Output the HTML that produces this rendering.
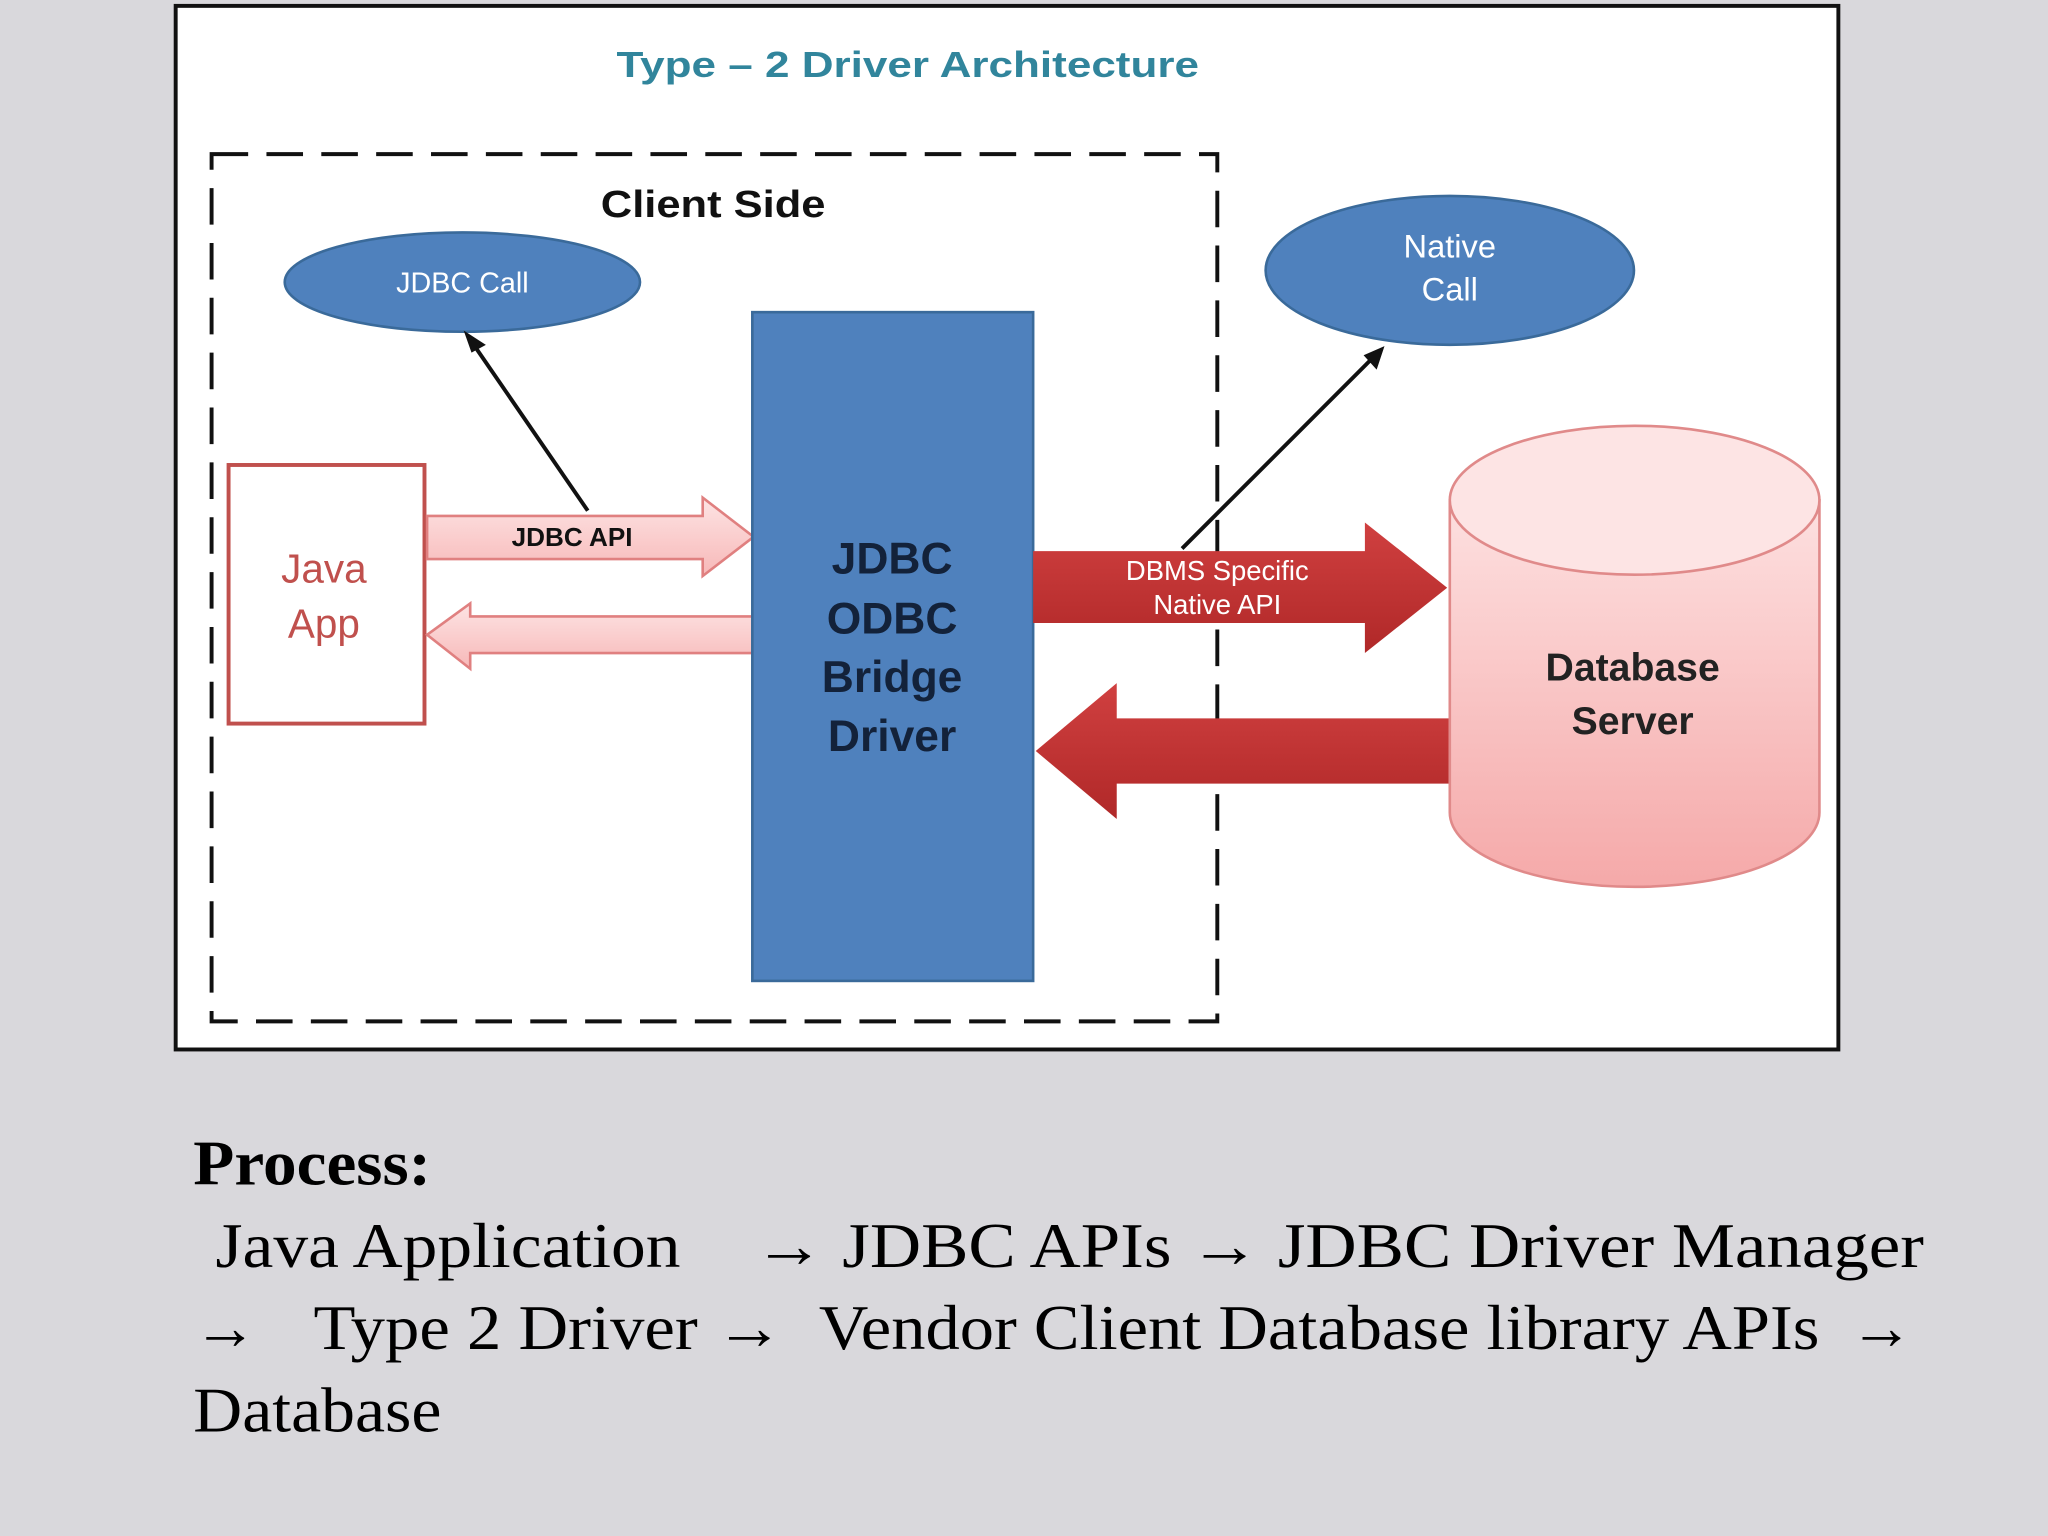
<!DOCTYPE html>
<html><head><meta charset="utf-8"><style>
html,body{margin:0;padding:0;background:#d9d8dc;}
svg{display:block;}
</style></head><body>
<svg width="2048" height="1536" viewBox="0 0 1568 1176" xmlns="http://www.w3.org/2000/svg">
<defs>
<linearGradient id="pk" x1="0" y1="0" x2="0" y2="1"><stop offset="0" stop-color="#fde4e4"/><stop offset="1" stop-color="#f7b8b8"/></linearGradient>
<linearGradient id="cyl" x1="0" y1="0" x2="0" y2="1"><stop offset="0" stop-color="#fde0e0"/><stop offset="1" stop-color="#f5a9a9"/></linearGradient>
<linearGradient id="rd" x1="0" y1="0" x2="0" y2="1"><stop offset="0" stop-color="#d04040"/><stop offset="1" stop-color="#b02828"/></linearGradient>
</defs>
<rect x="0" y="0" width="1568" height="1176" fill="#d9d8dc"/>
<rect x="134.5" y="4.5" width="1273" height="799" fill="#fff" stroke="#111" stroke-width="3"/>
<text x="472" y="59" textLength="446" lengthAdjust="spacingAndGlyphs" font-family="Liberation Sans, sans-serif" font-weight="bold" font-size="28" fill="#31859c">Type – 2 Driver Architecture</text>
<rect x="162" y="118" width="770" height="664" fill="none" stroke="#111" stroke-width="3" stroke-dasharray="28 14"/>
<text x="460" y="166" textLength="172" lengthAdjust="spacingAndGlyphs" font-family="Liberation Sans, sans-serif" font-weight="bold" font-size="29" fill="#111">Client Side</text>
<ellipse cx="354" cy="216" rx="136" ry="38" fill="#4f81bd" stroke="#3a6a9a" stroke-width="2"/>
<text x="354" y="224" font-family="Liberation Sans, sans-serif" font-size="22" fill="#fff" text-anchor="middle">JDBC Call</text>
<ellipse cx="1110" cy="207" rx="141" ry="57" fill="#4f81bd" stroke="#3a6a9a" stroke-width="2"/>
<text x="1110" y="197" font-family="Liberation Sans, sans-serif" font-size="25" fill="#fff" text-anchor="middle">Native</text>
<text x="1110" y="230" font-family="Liberation Sans, sans-serif" font-size="25" fill="#fff" text-anchor="middle">Call</text>
<rect x="175" y="356" width="150" height="198" fill="#fff" stroke="#c0504d" stroke-width="3"/>
<text x="248" y="446" font-family="Liberation Sans, sans-serif" font-size="31" fill="#c0504d" text-anchor="middle">Java</text>
<text x="248" y="488" font-family="Liberation Sans, sans-serif" font-size="31" fill="#c0504d" text-anchor="middle">App</text>
<polygon points="327,395 538,395 538,381 577,411 538,441 538,428 327,428" fill="url(#pk)" stroke="#e08080" stroke-width="2"/>
<text x="438" y="418" font-family="Liberation Sans, sans-serif" font-weight="bold" font-size="20" fill="#111" text-anchor="middle">JDBC API</text>
<polygon points="577,472 360,472 360,462 327,486 360,512 360,500 577,500" fill="url(#pk)" stroke="#e08080" stroke-width="2"/>
<rect x="576" y="239" width="215" height="512" fill="#4f81bd" stroke="#3a6a9a" stroke-width="2"/>
<g font-family="Liberation Sans, sans-serif" font-weight="bold" font-size="34" fill="#13223a" text-anchor="middle">
<text x="683" y="439">JDBC</text><text x="683" y="485">ODBC</text><text x="683" y="530">Bridge</text><text x="683" y="575">Driver</text></g>
<polygon points="791,422 1045,422 1045,400 1108,450 1045,500 1045,477 791,477" fill="url(#rd)"/>
<text x="932" y="444" font-family="Liberation Sans, sans-serif" font-size="21" fill="#fff" text-anchor="middle">DBMS Specific</text>
<text x="932" y="470" font-family="Liberation Sans, sans-serif" font-size="21" fill="#fff" text-anchor="middle">Native API</text>
<polygon points="1112,550 855,550 855,523 793,575 855,627 855,600 1112,600" fill="url(#rd)"/>
<path d="M1110,383 L1110,622 A141.5,57 0 0 0 1393,622 L1393,383 Z" fill="url(#cyl)" stroke="#e08a8a" stroke-width="2"/>
<ellipse cx="1251.5" cy="383" rx="141.5" ry="57" fill="#fde4e4" stroke="#e08a8a" stroke-width="2"/>
<text x="1250" y="521" font-family="Liberation Sans, sans-serif" font-weight="bold" font-size="30" fill="#222" text-anchor="middle">Database</text>
<text x="1250" y="562" font-family="Liberation Sans, sans-serif" font-weight="bold" font-size="30" fill="#222" text-anchor="middle">Server</text>
<line x1="450" y1="391" x2="360" y2="260" stroke="#111" stroke-width="3"/>
<polygon points="355,253 372,264 361,270" fill="#111"/>
<line x1="905" y1="420" x2="1055" y2="270" stroke="#111" stroke-width="3"/>
<polygon points="1060,265 1054,283 1044,272" fill="#111"/>
<g font-family="Liberation Serif, serif" font-size="49" fill="#000">
<text x="148" y="907" font-weight="bold" textLength="182" lengthAdjust="spacingAndGlyphs">Process:</text>
<text x="165" y="970" textLength="356" lengthAdjust="spacingAndGlyphs">Java Application</text>
<text x="577" y="970" textLength="896" lengthAdjust="spacingAndGlyphs">→ JDBC APIs → JDBC Driver Manager</text>
<text x="148" y="1033">→</text>
<text x="240" y="1033" textLength="360" lengthAdjust="spacingAndGlyphs">Type 2 Driver →</text>
<text x="627" y="1033" textLength="766" lengthAdjust="spacingAndGlyphs">Vendor Client Database library APIs</text>
<text x="1416" y="1033">→</text>
<text x="148" y="1096" textLength="190" lengthAdjust="spacingAndGlyphs">Database</text>
</g>
</svg>
</body></html>
